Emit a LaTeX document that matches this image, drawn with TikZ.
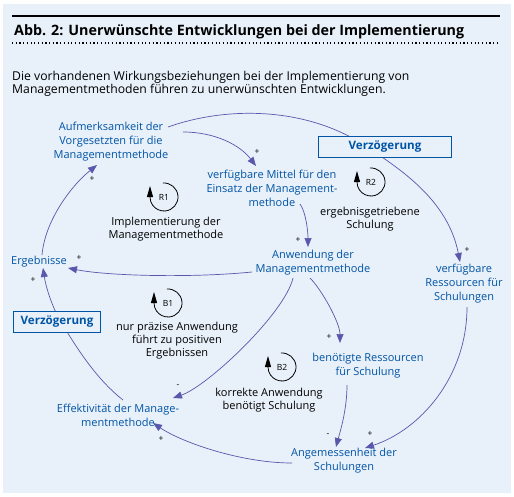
\documentclass[tikz,border=0pt]{standalone}
\usepackage{fontspec}
\setmainfont{Open Sans}
\usepackage{tikz}
\usetikzlibrary{calc,arrows.meta}
\pgfdeclarelayer{background}
\pgfsetlayers{background,main}
\definecolor{panel}{RGB}{232,240,249}
\definecolor{mblue}{RGB}{0,84,166}
\definecolor{linkc}{RGB}{88,88,172}
\tikzset{
   var/.style={text=mblue, align=center, inner sep=1pt,
               font=\fontsize{11}{14}\selectfont},
   delay/.style={draw=mblue, fill=panel, text=mblue, line width=0.9pt,
               minimum height=21pt, inner sep=0pt,
               font=\fontsize{11.6}{12}\selectfont\bfseries},
   note/.style={align=center, inner sep=1pt, font=\fontsize{11}{13}\selectfont},
   sgn/.style={inner sep=0pt, font=\fontsize{8.5}{8.5}\selectfont},
   loopname/.style={inner sep=0pt, font=\fontsize{8.5}{8.5}\selectfont},
   loopline/.style={line width=0.8pt, -{Triangle[length=11pt,width=6pt]}},
   link/.style={draw=linkc, line width=0.7pt, -{Triangle[length=9pt,width=7pt]}}
}
\begin{document}
\begin{tikzpicture}[x=1pt,y=-1pt]
\useasboundingbox (0,0) rectangle (514,496);
\begin{pgfonlayer}{background}
\fill[panel] (3,4) rectangle (511,493);
\end{pgfonlayer}
% header
\draw[line width=2pt] (12,15.5) -- (500,15.5);
\node[anchor=base west, inner sep=0pt, font=\fontsize{14.3}{14.3}\selectfont\bfseries] (title) at (14,35)
   {Abb. 2: Unerwünschte Entwicklungen bei der Implementierung};
\draw[line width=1.2pt, dash pattern=on 1.2pt off 2.5pt] (12,43) -- (500,43);
\node[anchor=north west, align=left, inner sep=0pt, font=\fontsize{12.2}{13.5}\selectfont] (intro) at (12,71)
   {Die vorhandenen Wirkungsbeziehungen bei der Implementierung von\\Managementmethoden führen zu unerwünschten Entwicklungen.};
% variables
\node[var] (aufm) at (111,142) {Aufmerksamkeit der\\Vorgesetzten für die\\Managementmethode};
\node[var] (mittel) at (272,188) {verfügbare Mittel für den\\Einsatz der Management-\\methode};
\node[var] (anw) at (313,263) {Anwendung der\\Managementmethode};
\node[var] (erg) at (39,262) {Ergebnisse};
\node[var] (res) at (464,284) {verfügbare\\Ressourcen für\\Schulungen};
\node[var] (eff) at (118,415) {Effektivität der Manage-\\mentmethode};
\node[var] (ben) at (368,366) {benötigte Ressourcen\\für Schulung};
\node[var] (ang) at (344,461) {Angemessenheit der\\Schulungen};
\node[delay, minimum width=133pt] (vzR) at (385,147) {Verzögerung};
\node[delay, minimum width=87pt] (vzL) at (57,322) {Verzögerung};
% loops
\node[loopname] (r1) at (164,197) {R1};
\draw[loopline] ([shift={(-95:14)}]r1.center) arc[start angle=-95, end angle=180, radius=14] -- ++(0,-11);
\node[note] (r1txt) at (166,229) {Implementierung der\\Managementmethode};
\node[loopname] (r2) at (371,182) {R2};
\draw[loopline] ([shift={(-95:14)}]r2.center) arc[start angle=-95, end angle=180, radius=14] -- ++(0,-11);
\node[note] (r2txt) at (370,219) {ergebnisgetriebene\\Schulung};
\node[loopname] (b1) at (168,303) {B1};
\draw[loopline] ([shift={(-95:14)}]b1.center) arc[start angle=-95, end angle=180, radius=14] -- ++(0,-11);
\node[note] (b1txt) at (177,341) {nur präzise Anwendung\\führt zu positiven\\Ergebnissen};
\node[loopname] (b2) at (282,367) {B2};
\draw[loopline] ([shift={(-95:14)}]b2.center) arc[start angle=-95, end angle=180, radius=14] -- ++(0,-11);
\node[note] (b2txt) at (269,400) {korrekte Anwendung\\benötigt Schulung};
% links
\begin{pgfonlayer}{background}
\draw[link] ([shift={(72,-10)}]aufm.center) .. controls +(32,0) and +(-16,-21) .. ([shift={(-16,-22)}]mittel.center);
\draw[link] ([shift={(57,-15)}]aufm.center) .. controls +(62,-22) and +(-57,-39) .. ([shift={(-18,0)}]vzR.center)
   .. controls +(33,22) and +(-12,-62) .. ([shift={(-4,-22)}]res.center);
\draw[link] ([shift={(28,16)}]mittel.center) .. controls +(6,8) and +(0,-15) .. ([shift={(-5,-16)}]anw.center);
\draw[link] ([shift={(-61,9)}]anw.center) .. controls +(-60,6) and +(40,8) .. ([shift={(29,6)}]erg.center);
\draw[link] ([shift={(3,-7)}]erg.center) .. controls +(3,-35) and +(-25,20) .. ([shift={(-14,23)}]aufm.center);
\draw[link] ([shift={(5,-15)}]eff.center) .. controls +(-28,-22) and +(14,23) .. ([shift={(4,0)}]vzL.center)
   .. controls +(-8,-13) and +(3,20) .. ([shift={(4,6)}]erg.center);
\draw[link] ([shift={(-20,15)}]anw.center) .. controls +(-8,35) and +(35,-12) .. ([shift={(55,-17)}]eff.center);
\draw[link] ([shift={(-3,15)}]anw.center) .. controls +(12,12) and +(0,-20) .. ([shift={(-28,-23)}]ben.center);
\draw[link] ([shift={(-21,19)}]ben.center) .. controls +(0,25) and +(4,-15) .. ([shift={(-8,-14)}]ang.center);
\draw[link] ([shift={(3,23)}]res.center) .. controls +(0,70) and +(55,-18) .. ([shift={(21,-13)}]ang.center);
\draw[link] ([shift={(-52,2)}]ang.center) .. controls +(-50,0) and +(30,20) .. ([shift={(35,8)}]eff.center);
\end{pgfonlayer}
% polarities
\node[sgn] (s1) at (257,152) {+};
\node[sgn] (s2) at (467,250) {+};
\node[sgn] (s3) at (298,240) {+};
\node[sgn] (s4) at (79,258) {+};
\node[sgn] (s5) at (92,179) {+};
\node[sgn] (s6) at (33,280) {+};
\node[sgn] (s7) at (178,386) {-};
\node[sgn] (s8) at (329,337) {+};
\node[sgn] (s9) at (328,435) {-};
\node[sgn] (s10) at (370,434) {+};
\node[sgn] (s11) at (161,439) {+};
\end{tikzpicture}
\end{document}
